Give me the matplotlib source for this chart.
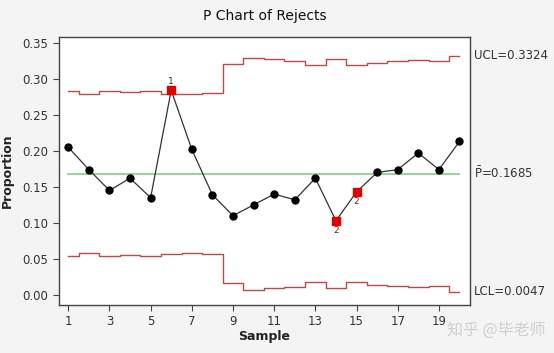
import numpy as np
import matplotlib.pyplot as plt

samples = np.arange(1, 21)
proportion = [0.205, 0.174, 0.145, 0.162, 0.135, 0.284, 0.202, 0.139, 0.110, 0.125,
              0.140, 0.132, 0.162, 0.103, 0.143, 0.170, 0.174, 0.197, 0.174, 0.213]
ucl = [0.283, 0.279, 0.283, 0.2815, 0.283, 0.2796, 0.279, 0.2806, 0.320, 0.3296,
       0.327, 0.3254, 0.319, 0.328, 0.319, 0.3226, 0.3245, 0.326, 0.3245, 0.3324]
lcl = [0.054, 0.058, 0.054, 0.0555, 0.054, 0.0574, 0.058, 0.0564, 0.017, 0.0074,
       0.010, 0.0116, 0.018, 0.009, 0.018, 0.0144, 0.0125, 0.011, 0.0125, 0.0047]
p_bar = 0.1685
flagged = {6: "1", 14: "2", 15: "2"}

plt.rcParams['font.family'] = ['DejaVu Sans']
fig = plt.figure(figsize=(5.54, 3.53), dpi=100, facecolor='#f4f4f4')
ax = fig.add_axes([0.1065, 0.136, 0.7415, 0.759])
ax.set_facecolor('white')

red = '#b84a4a'
ax.step(samples, ucl, where='mid', color=red, lw=1.0)
ax.step(samples, lcl, where='mid', color=red, lw=1.0)
ax.axhline(p_bar, xmin=(1 - 0.55) / 19.95, xmax=(20 - 0.55) / 19.95, color='#7fd07f', lw=1.2)

ax.plot(samples, proportion, color='#333333', lw=0.9, marker='o', ms=5,
        mfc='black', mec='black', zorder=3)
for s, lab in flagged.items():
    v = proportion[s - 1]
    ax.plot(s, v, marker='s', ms=5.5, color='#e00000', mec='#e00000', zorder=4)
    if lab == "1":
        ax.text(s, v + 0.006, lab, ha='center', va='bottom', fontsize=6.5, color='#333333')
    else:
        ax.text(s, v - 0.007, lab, ha='center', va='top', fontsize=6.5, color='#333333')

ax.set_xlim(0.55, 20.5)
ax.set_ylim(-0.014, 0.358)
ax.set_xticks(range(1, 20, 2))
ax.set_yticks(np.arange(0, 0.351, 0.05))
ax.set_yticklabels([f"{v:.2f}" for v in np.arange(0, 0.351, 0.05)])
ax.tick_params(direction='out', length=4, width=0.8, color='#444444', labelcolor='#333333', labelsize=8.5)
for sp in ax.spines.values():
    sp.set_color('#444444')
    sp.set_linewidth(1.0)

ax.set_title("P Chart of Rejects", fontsize=10, color='#111111', pad=12)
ax.set_xlabel("Sample", fontsize=9, fontweight='bold', color='#222222', labelpad=1)
ax.set_ylabel("Proportion", fontsize=9, fontweight='bold', color='#222222', labelpad=6)

ax.text(1.01, ucl[-1], "UCL=0.3324", transform=ax.get_yaxis_transform(), va='center',
        fontsize=8.5, color='#333333')
ax.text(1.01, p_bar, r"$\bar{\mathrm{P}}$=0.1685", transform=ax.get_yaxis_transform(), va='center',
        fontsize=8.5, color='#333333')
ax.text(1.01, lcl[-1], "LCL=0.0047", transform=ax.get_yaxis_transform(), va='center',
        fontsize=8.5, color='#333333')

fig.text(0.985, 0.064, "知乎 @毕老师", ha='right', va='center', fontsize=11.5,
         color='#d0d0d0', family=['Noto Sans CJK SC', 'DejaVu Sans'])

fig.savefig("out.png", dpi=100, facecolor=fig.get_facecolor())
